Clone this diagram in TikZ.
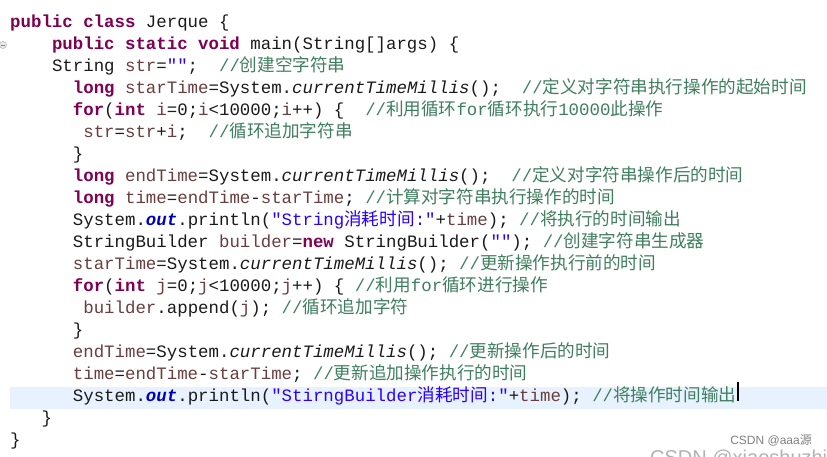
\documentclass[tikz,border=0pt]{standalone}
\usepackage{fontspec}
\setmonofont{Liberation Mono}
\setsansfont{Liberation Sans}
\newfontfamily\cjkf{Noto Sans CJK SC}
\definecolor{kwc}{HTML}{7F0055}
\definecolor{vrc}{HTML}{6A3E3E}
\definecolor{cmc}{HTML}{3F7F5F}
\definecolor{stc}{HTML}{2A00FF}
\definecolor{outc}{HTML}{0000C0}
\definecolor{hlc}{HTML}{E8F2FE}
\definecolor{txc}{HTML}{1A1A1A}
\newcommand{\kw}[1]{{\bfseries\color{kwc}#1}}
\newcommand{\vr}[1]{{\color{vrc}#1}}
\newcommand{\cm}[1]{{\color{cmc}#1}}
\newcommand{\stq}[1]{{\color{stc}#1}}
\newcommand{\zh}[1]{{\cjkf\fontsize{17.6}{17.6}\selectfont #1}}
\newcommand{\ctm}{System.\textit{currentTimeMillis}()}
\newcommand{\outx}{{\bfseries\itshape\color{outc}out}}
\begin{document}
\begin{tikzpicture}[x=1pt,y=-1pt,
  codeline/.style={anchor=base west,inner sep=0pt,font=\ttfamily\fontsize{17.4}{17.4}\selectfont,text=txc}]
\useasboundingbox (0,0) rectangle (827,456);
\fill[white] (0,0) rectangle (827,456);
\fill[hlc] (10,387) rectangle (827,409);
\def\cw{10.45}
\def\bx{10}
\newcommand{\cl}[4]{\node[codeline] (#1) at ({\bx+#3*\cw},{22.05*(#2-1)+27}) {#4};}
\cl{l1}{1}{0}{\kw{public class} Jerque \{}
\cl{l2}{2}{4}{\kw{public static void} main(String[]args) \{}
\cl{l3}{3}{4}{String \vr{str}=\stq{""};\ \ \cm{//\zh{创建空字符串}}}
\cl{l4}{4}{6}{\kw{long} \vr{starTime}=\ctm;\ \ \cm{//\zh{定义对字符串执行操作的起始时间}}}
\cl{l5}{5}{6}{\kw{for}(\kw{int} \vr{i}=0;\vr{i}<10000;\vr{i}++) \{\ \ \cm{//\zh{利用循环}for\zh{循环执行}10000\zh{此操作}}}
\cl{l6}{6}{7}{\vr{str}=\vr{str}+\vr{i};\ \ \cm{//\zh{循环追加字符串}}}
\cl{l7}{7}{6}{\}}
\cl{l8}{8}{6}{\kw{long} \vr{endTime}=\ctm;\ \ \cm{//\zh{定义对字符串操作后的时间}}}
\cl{l9}{9}{6}{\kw{long} \vr{time}=\vr{endTime}-\vr{starTime}; \cm{//\zh{计算对字符串执行操作的时间}}}
\cl{l10}{10}{6}{System.\outx.println(\stq{"String\zh{消耗时间}:"}+\vr{time}); \cm{//\zh{将执行的时间输出}}}
\cl{l11}{11}{6}{StringBuilder \vr{builder}=\kw{new} StringBuilder(\stq{""}); \cm{//\zh{创建字符串生成器}}}
\cl{l12}{12}{6}{\vr{starTime}=\ctm; \cm{//\zh{更新操作执行前的时间}}}
\cl{l13}{13}{6}{\kw{for}(\kw{int} \vr{j}=0;\vr{j}<10000;\vr{j}++) \{ \cm{//\zh{利用}for\zh{循环进行操作}}}
\cl{l14}{14}{7}{\vr{builder}.append(\vr{j}); \cm{//\zh{循环追加字符}}}
\cl{l15}{15}{6}{\}}
\cl{l16}{16}{6}{\vr{endTime}=\ctm; \cm{//\zh{更新操作后的时间}}}
\cl{l17}{17}{6}{\vr{time}=\vr{endTime}-\vr{starTime}; \cm{//\zh{更新追加操作执行的时间}}}
\cl{l18}{18}{6}{System.\outx.println(\stq{"StirngBuilder\zh{消耗时间}:"}+\vr{time}); \cm{//\zh{将操作时间输出}}}
\cl{l19}{19}{3}{\}}
\cl{l20}{20}{0}{\}}
% cursor
\draw[black,line width=1.6pt] (l18.east) ++(1.5,-14) -- ++(0,19);
% fold marker
\node[circle,draw=gray!70,fill=gray!15,inner sep=0pt,minimum size=7pt] (fold) at (3,45) {};
\draw[gray] (1,45) -- (5,45);
% watermarks
\node[anchor=base east,inner sep=0pt,font=\sffamily\fontsize{12}{12}\selectfont,text=gray] (wm1) at (812,444) {CSDN @aaa{\cjkf\fontsize{12}{12}\selectfont 源}};
\begin{scope}
\clip (0,0) rectangle (827,456);
\node[anchor=base west,inner sep=0pt,font=\sffamily\fontsize{20}{20}\selectfont,text=gray!60] (wm2) at (650,464) {CSDN @xiaoshuzhi12};
\end{scope}
\end{tikzpicture}
\end{document}
